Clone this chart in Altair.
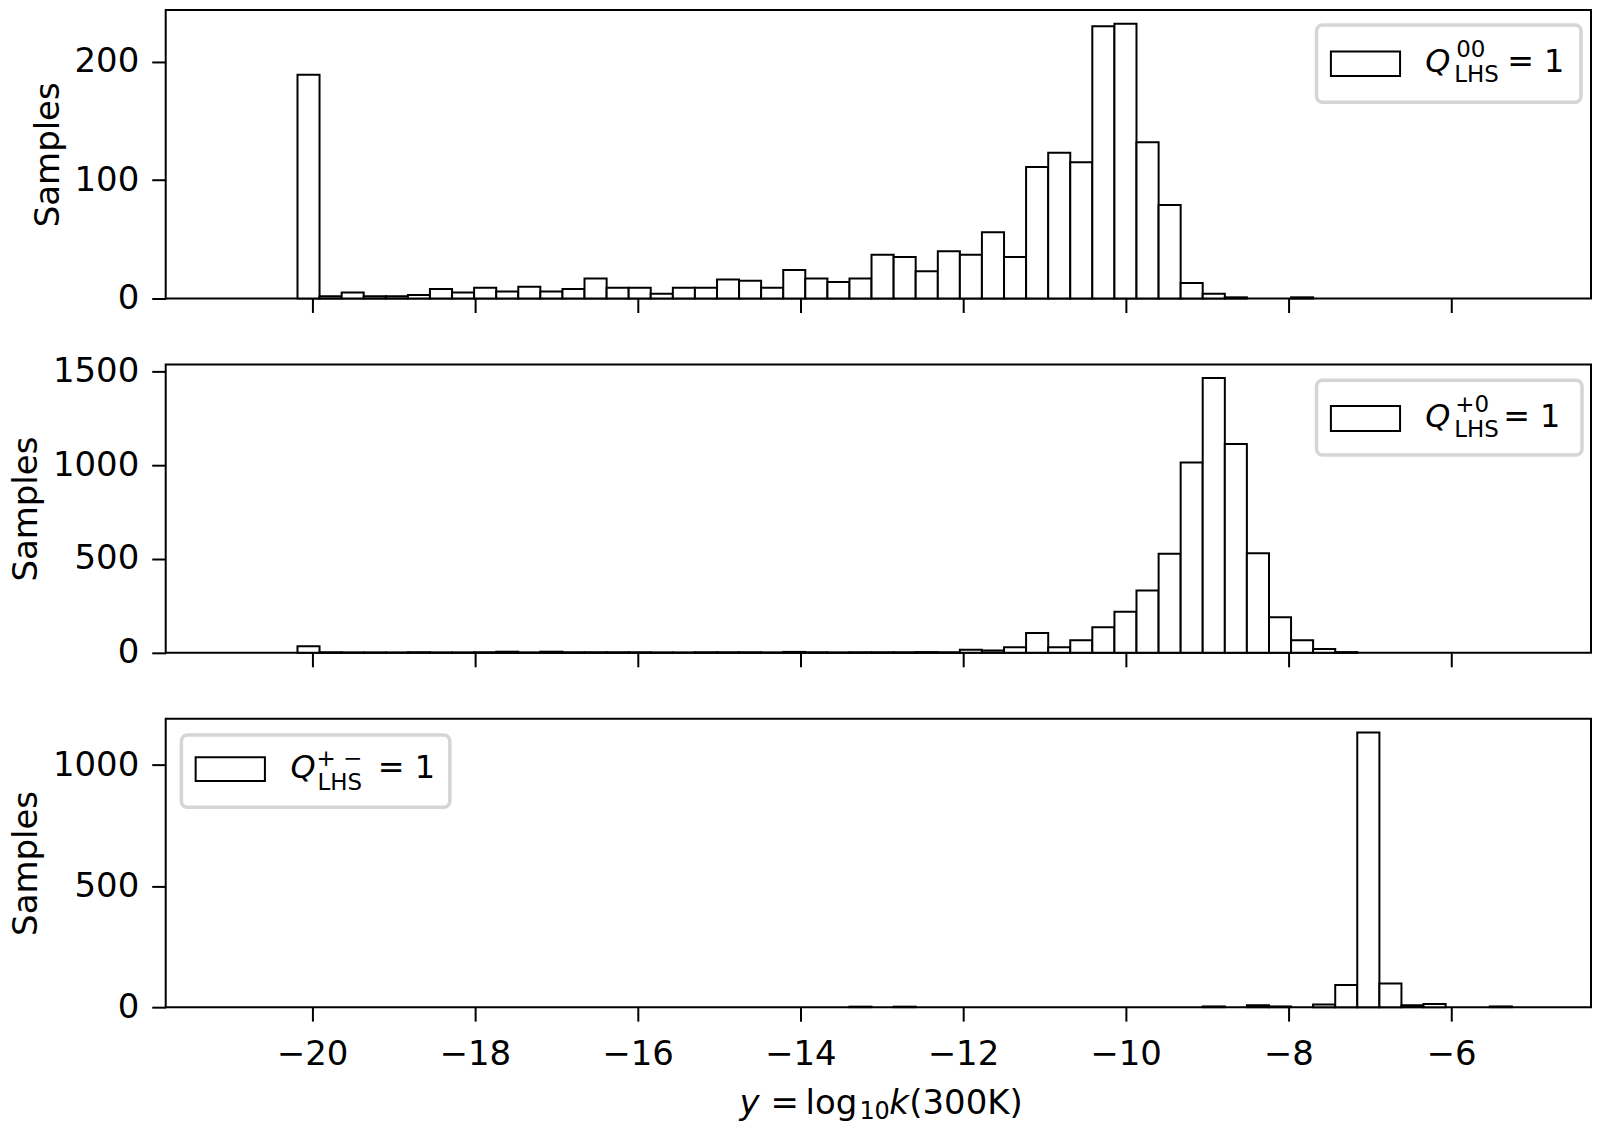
import altair as alt
import pandas as pd

# ---------------- data ----------------
bin_edges = [-20.180, -19.909, -19.637, -19.366, -19.094, -18.823, -18.552, -18.280, -18.009, -17.737,
             -17.466, -17.195, -16.923, -16.652, -16.380, -16.109, -15.838, -15.566, -15.295, -15.023,
             -14.752, -14.481, -14.209, -13.938, -13.666, -13.395, -13.124, -12.852, -12.581, -12.309,
             -12.038, -11.767, -11.495, -11.224, -10.952, -10.681, -10.410, -10.138, -9.867, -9.595,
             -9.324, -9.053, -8.781, -8.510, -8.238, -7.967, -7.696, -7.424, -7.153, -6.881,
             -6.610, -6.339, -6.067, -5.796, -5.524, -5.253, -4.981]

counts_q00 = [189, 2, 5, 2, 2, 3, 8, 5, 9, 6,
              10, 6, 8, 17, 9, 9, 4, 9, 9, 16,
              15, 9, 24, 17, 14, 17, 37, 35, 23, 40,
              37, 56, 35, 111, 123, 115, 230, 232, 132, 79,
              13, 4, 1, 0, 0, 1, 0, 0, 0, 0,
              0, 0, 0, 0, 0, 0]

counts_qp0 = [35, 3, 2, 2, 2, 3, 2, 2, 3, 6,
              2, 6, 3, 3, 3, 3, 2, 2, 3, 3,
              3, 2, 5, 3, 2, 3, 3, 3, 4, 3,
              16, 12, 30, 106, 30, 67, 136, 219, 332, 528,
              1014, 1464, 1113, 531, 189, 67, 21, 4, 0, 0,
              0, 0, 0, 0, 0, 0]

counts_qpm = [0, 0, 0, 0, 0, 0, 0, 0, 0, 0,
              0, 0, 0, 0, 0, 0, 0, 0, 0, 0,
              0, 0, 0, 0, 0, 2, 0, 2, 0, 0,
              0, 0, 0, 0, 0, 0, 0, 0, 0, 0,
              0, 3, 0, 8, 3, 0, 11, 92, 1135, 98,
              8, 13, 0, 0, 3, 0]

x_ticks = [-20, -18, -16, -14, -12, -10, -8, -6]
y_ticks_q00 = [0, 100, 200]
y_ticks_qp0 = [0, 500, 1000, 1500]
y_ticks_qpm = [0, 500, 1000]

legend_sup = ["00", "+0", "+ \u2212"]
legend_sub = "LHS"
y_title = "Samples"

# ---------------- style ----------------
FONT = "DejaVu Sans"
W, H = 1428, 289
X_DOMAIN = [-21.8, -4.28]


def text_piece(txt, x, y, size, italic=False):
    one = pd.DataFrame({"k": [0]})
    return alt.Chart(one).mark_text(
        text=txt, font=FONT, fontSize=size, fontStyle="italic" if italic else "normal",
        align="left", baseline="alphabetic", color="black"
    ).encode(x=alt.value(x), y=alt.value(y))


def legend(box, patch, q, sup, sub, eq, sup_text):
    one = pd.DataFrame({"k": [0]})
    frame = alt.Chart(one).mark_rect(
        fill="white", fillOpacity=0.8, stroke="#d5d5d5", strokeWidth=3.5, cornerRadius=6
    ).encode(x=alt.value(box[0]), x2=alt.value(box[1]), y=alt.value(box[2]), y2=alt.value(box[3]))
    swatch = alt.Chart(one).mark_rect(
        fill="white", stroke="black", strokeWidth=2
    ).encode(x=alt.value(patch[0]), x2=alt.value(patch[1]), y=alt.value(patch[2]), y2=alt.value(patch[3]))
    return [
        frame, swatch,
        text_piece("Q", q[0], q[1], 32, italic=True),
        text_piece(sup_text, sup[0], sup[1], 23),
        text_piece(legend_sub, sub[0], sub[1], 23),
        text_piece("= 1", eq[0], eq[1], 32),
    ]


def panel(counts, yticks, show_x_labels, extra):
    df = pd.DataFrame({"start": bin_edges[:-1], "end": bin_edges[1:], "count": counts})
    df = df[df["count"] > 0]
    ymax = max(counts) * 1.05
    bars = alt.Chart(df).mark_bar(
        fill="white", stroke="black", strokeWidth=2
    ).encode(
        x=alt.X("start:Q",
                scale=alt.Scale(domain=X_DOMAIN, nice=False, zero=False),
                axis=alt.Axis(values=x_ticks, labels=show_x_labels, title=None, format="d",
                              labelPadding=16)),
        x2="end:Q",
        y=alt.Y("count:Q",
                scale=alt.Scale(domain=[0, ymax], nice=False),
                axis=alt.Axis(values=yticks, title=y_title, format="d",
                              labelPadding=13, titlePadding=9)),
        y2=alt.datum(0),
    )
    return alt.layer(bars, *extra).properties(width=W, height=H)


p1 = panel(counts_q00, y_ticks_q00, False,
           legend(box=(1153, 1418, 15, 92.3), patch=(1167.4, 1236.7, 41.6, 66),
                  q=(1262, 62.5), sup=(1293, 47.5), sub=(1291, 72.3), eq=(1344, 62.5),
                  sup_text=legend_sup[0]))

p2 = panel(counts_qp0, y_ticks_qp0, False,
           legend(box=(1153, 1419, 16, 90.7), patch=(1167.4, 1236.7, 41.7, 66.7),
                  q=(1262, 63), sup=(1292, 47.5), sub=(1291, 73), eq=(1340, 63),
                  sup_text=legend_sup[1]))

xtitle = [
    text_piece("y", 575, H + 106.7, 34, italic=True),
    text_piece("=", 606, H + 106.7, 34),
    text_piece("log", 641, H + 106.7, 34),
    text_piece("10", 695, H + 111.7, 24),
    text_piece("k", 725, H + 106.7, 34, italic=True),
    text_piece("(300K)", 745, H + 106.7, 34),
]

p3 = panel(counts_qpm, y_ticks_qpm, True,
           legend(box=(15.7, 284.7, 16.3, 88.6), patch=(30, 99.4, 38.6, 62.3),
                  q=(125, 59.5), sup=(151, 47.5), sub=(152, 71), eq=(212.5, 59.8),
                  sup_text=legend_sup[2]) + xtitle)

chart = alt.vconcat(p1, p2, p3, spacing=66, bounds="flush").properties(
    padding={"left": 0, "top": 0, "right": 0, "bottom": 0}
).configure_view(
    stroke="black", strokeWidth=2
).configure_axis(
    labelFont=FONT, labelFontSize=34, labelColor="black",
    titleFont=FONT, titleFontSize=34, titleFontWeight="normal", titleColor="black",
    tickColor="black", tickWidth=2, tickSize=14,
    domain=False, grid=False
)

chart.save("out.html", embed_options={"renderer": "svg", "actions": False})
